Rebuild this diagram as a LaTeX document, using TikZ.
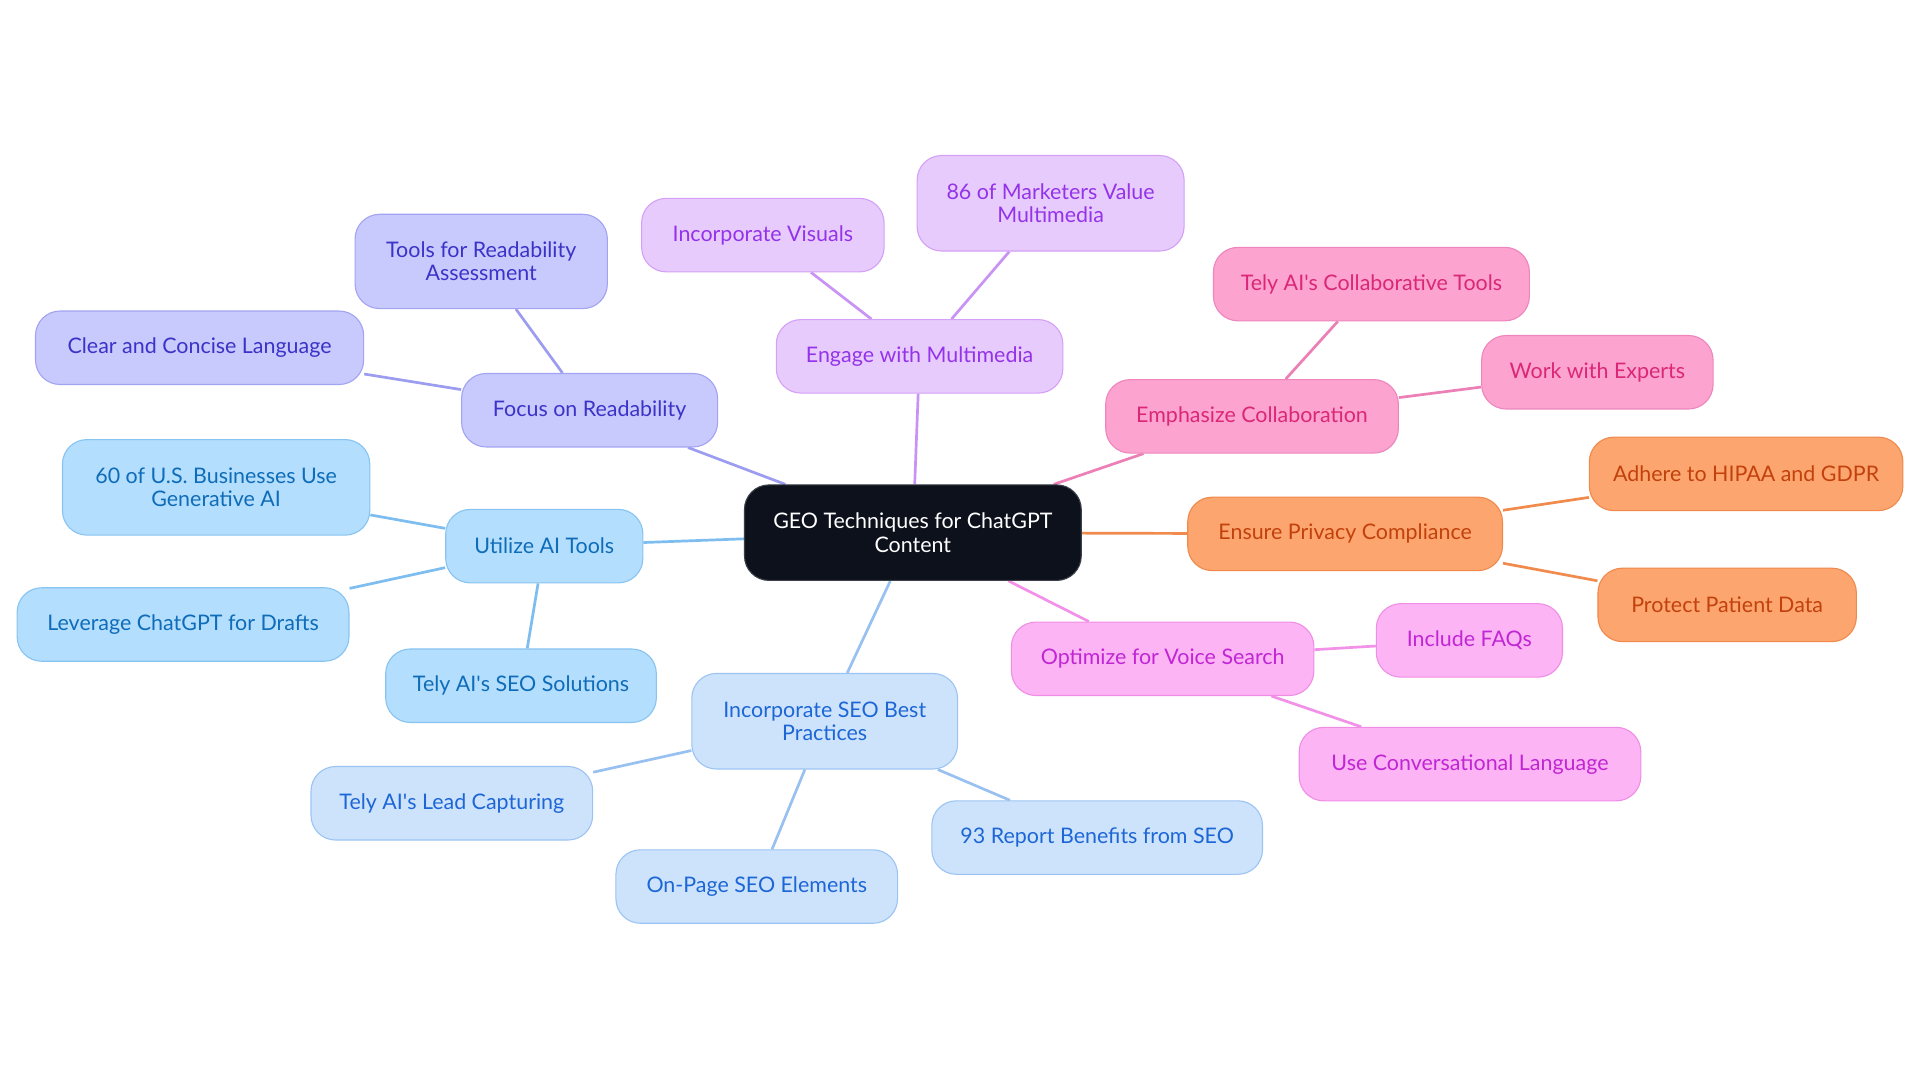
\documentclass[tikz,border=0pt]{standalone}
\usepackage{fontspec}
\setmainfont{Lato}
\usetikzlibrary{backgrounds}
\definecolor{rootfill}{HTML}{0C111B}
\definecolor{rootdraw}{HTML}{3A3F48}
\definecolor{fofill}{HTML}{C8C9FC}
\definecolor{fodraw}{HTML}{A3A3F3}
\definecolor{fotext}{HTML}{3B33C8}
\definecolor{foedge}{HTML}{9C9CF0}
\definecolor{enfill}{HTML}{E8CBFD}
\definecolor{endraw}{HTML}{D5A0F6}
\definecolor{entext}{HTML}{9333EA}
\definecolor{enedge}{HTML}{C992F5}
\definecolor{emfill}{HTML}{FCA3CF}
\definecolor{emdraw}{HTML}{EE86BD}
\definecolor{emtext}{HTML}{DB2777}
\definecolor{emedge}{HTML}{EC7FB5}
\definecolor{prfill}{HTML}{FDA56F}
\definecolor{prdraw}{HTML}{F0894B}
\definecolor{prtext}{HTML}{C2410C}
\definecolor{predge}{HTML}{F08B4D}
\definecolor{vofill}{HTML}{FDB4F4}
\definecolor{vodraw}{HTML}{F08EE6}
\definecolor{votext}{HTML}{C026D3}
\definecolor{voedge}{HTML}{F291E8}
\definecolor{sefill}{HTML}{CDE3FC}
\definecolor{sedraw}{HTML}{9CC4F3}
\definecolor{setext}{HTML}{1D66D6}
\definecolor{seedge}{HTML}{98C1F1}
\definecolor{utfill}{HTML}{B3DEFD}
\definecolor{utdraw}{HTML}{88C4F1}
\definecolor{uttext}{HTML}{0F6CB8}
\definecolor{utedge}{HTML}{7DBDEF}
\begin{document}
\begin{tikzpicture}[x=1pt,y=-1pt,
  box/.style={rectangle, rounded corners=20pt, line width=0.9pt, inner sep=0pt,
    align=center, font=\fontsize{17.5}{19}\selectfont},
  rootbox/.style={box, fill=rootfill, draw=rootdraw, text=white},
  fobox/.style={box, fill=fofill, draw=fodraw, text=fotext},
  enbox/.style={box, fill=enfill, draw=endraw, text=entext},
  embox/.style={box, fill=emfill, draw=emdraw, text=emtext},
  prbox/.style={box, fill=prfill, draw=prdraw, text=prtext},
  vobox/.style={box, fill=vofill, draw=vodraw, text=votext},
  sebox/.style={box, fill=sefill, draw=sedraw, text=setext},
  utbox/.style={box, fill=utfill, draw=utdraw, text=uttext},
  edge/.style={line width=2.2pt}
]
\useasboundingbox (0,0) rectangle (1568,884.5);
% root
\node[rootbox, minimum width=275pt, minimum height=78pt] (root) at (745.5,435) {GEO Techniques for ChatGPT\\Content};
% focus
\node[fobox, minimum width=209pt, minimum height=60pt] (focus) at (481.5,335) {Focus on Readability};
\node[fobox, minimum width=206pt, minimum height=77pt] (tools) at (393,213.5) {Tools for Readability\\Assessment};
\node[fobox, minimum width=268pt, minimum height=60pt] (clear) at (163,284) {Clear and Concise Language};
% engage
\node[enbox, minimum width=234pt, minimum height=60pt] (engage) at (751,291) {Engage with Multimedia};
\node[enbox, minimum width=198pt, minimum height=60pt] (visuals) at (623,192) {Incorporate Visuals};
\node[enbox, minimum width=218pt, minimum height=78pt] (marketers) at (858,166) {86 of Marketers Value\\Multimedia};
% emphasize
\node[embox, minimum width=239pt, minimum height=60pt] (emph) at (1022.5,340) {Emphasize Collaboration};
\node[embox, minimum width=258pt, minimum height=60pt] (telycollab) at (1120,232) {Tely AI\textquotesingle s Collaborative Tools};
\node[embox, minimum width=189pt, minimum height=60pt] (experts) at (1304.5,304) {Work with Experts};
% privacy
\node[prbox, minimum width=257pt, minimum height=60pt] (privacy) at (1098.5,436) {Ensure Privacy Compliance};
\node[prbox, minimum width=256pt, minimum height=60pt] (hipaa) at (1426,387) {Adhere to HIPAA and GDPR};
\node[prbox, minimum width=211pt, minimum height=60pt] (patient) at (1410.5,494) {Protect Patient Data};
% voice
\node[vobox, minimum width=247pt, minimum height=60pt] (voice) at (949.5,538) {Optimize for Voice Search};
\node[vobox, minimum width=152pt, minimum height=60pt] (faqs) at (1200,523) {Include FAQs};
\node[vobox, minimum width=279pt, minimum height=60pt] (conv) at (1200.5,624) {Use Conversational Language};
% seo
\node[sebox, minimum width=217pt, minimum height=78pt] (seo) at (673.5,589) {Incorporate SEO Best\\Practices};
\node[sebox, minimum width=230pt, minimum height=60pt] (lead) at (369,656) {Tely AI\textquotesingle s Lead Capturing};
\node[sebox, minimum width=230pt, minimum height=60pt] (onpage) at (618,724) {On-Page SEO Elements};
\node[sebox, minimum width=270pt, minimum height=60pt] (report) at (896,684) {93 Report Benefits from SEO};
% utilize
\node[utbox, minimum width=161pt, minimum height=60pt] (utilize) at (444.5,446) {Utilize AI Tools};
\node[utbox, minimum width=251pt, minimum height=78pt] (sixty) at (176.5,398) {60 of U.S. Businesses Use\\Generative AI};
\node[utbox, minimum width=271pt, minimum height=60pt] (leverage) at (149.5,510) {Leverage ChatGPT for Drafts};
\node[utbox, minimum width=221pt, minimum height=60pt] (telyseo) at (425.5,560) {Tely AI\textquotesingle s SEO Solutions};
\begin{scope}[on background layer]
\fill[white] (0,0) rectangle (1568,884.5);
\draw[edge, foedge] (root) -- (focus);
\draw[edge, foedge] (focus) -- (tools);
\draw[edge, foedge] (focus) -- (clear);
\draw[edge, enedge] (root) -- (engage);
\draw[edge, enedge] (engage) -- (visuals);
\draw[edge, enedge] (engage) -- (marketers);
\draw[edge, emedge] (root) -- (emph);
\draw[edge, emedge] (emph) -- (telycollab);
\draw[edge, emedge] (emph) -- (experts);
\draw[edge, predge] (root) -- (privacy);
\draw[edge, predge] (privacy) -- (hipaa);
\draw[edge, predge] (privacy) -- (patient);
\draw[edge, voedge] (root) -- (voice);
\draw[edge, voedge] (voice) -- (faqs);
\draw[edge, voedge] (voice) -- (conv);
\draw[edge, seedge] (root) -- (seo);
\draw[edge, seedge] (seo) -- (lead);
\draw[edge, seedge] (seo) -- (onpage);
\draw[edge, seedge] (seo) -- (report);
\draw[edge, utedge] (root) -- (utilize);
\draw[edge, utedge] (utilize) -- (sixty);
\draw[edge, utedge] (utilize) -- (leverage);
\draw[edge, utedge] (utilize) -- (telyseo);
\end{scope}
\end{tikzpicture}
\end{document}
